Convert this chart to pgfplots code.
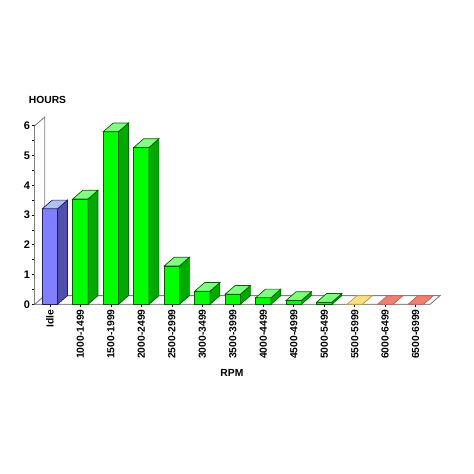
\documentclass[border=0pt]{standalone}
\usepackage{fontspec}
\setmainfont{Liberation Sans}
\usepackage{pgfplots}
\pgfplotsset{compat=1.18}

\definecolor{grn}{HTML}{00FF00}
\definecolor{grnside}{HTML}{00AA00}
\definecolor{grntop}{HTML}{80FF80}
\definecolor{grnedge}{HTML}{006000}
\definecolor{blu}{HTML}{8080FF}
\definecolor{bluside}{HTML}{5050AA}
\definecolor{blutop}{HTML}{B0C0F0}
\definecolor{bluedge}{HTML}{202060}
\definecolor{yeltop}{HTML}{FFE080}
\definecolor{redtop}{HTML}{F08070}
\definecolor{floorline}{HTML}{808080}

% one 3d bar: position, hours, front, side, top, edge
\newcommand{\tdbar}[6]{%
  \pgfmathsetmacro{\xa}{#1-0.25}%
  \pgfmathsetmacro{\xb}{#1+0.25}%
  \pgfmathsetmacro{\xc}{#1+0.25+0.325}%
  \pgfmathsetmacro{\xd}{#1-0.25+0.325}%
  \pgfmathsetmacro{\yb}{#2+0.29}%
  \addplot[fill=#3,draw=#6,line width=0.7pt] coordinates {(\xa,0) (\xb,0) (\xb,#2) (\xa,#2)} --cycle;
  \addplot[fill=#4,draw=#6,line width=0.7pt] coordinates {(\xb,0) (\xc,0.29) (\xc,\yb) (\xb,#2)} --cycle;
  \addplot[fill=#5,draw=#6,line width=0.7pt] coordinates {(\xa,#2) (\xb,#2) (\xc,\yb) (\xd,\yb)} --cycle;
}

\begin{document}
\begin{tikzpicture}[x=1pt,y=1pt]
\path[use as bounding box] (0,0) rectangle (474,474);
\begin{axis}[
    at={(34.7pt,169.7pt)},
    anchor=south west,
    scale only axis,
    width=395.3pt,
    height=178.6pt,
    xmin=-0.5, xmax=12.47,
    ymin=0, ymax=6,
    clip=false,
    no markers,
    axis lines=left,
    axis line style={-,floorline,line width=0.9pt},
    /pgf/number format/assume math mode=true,
    xtick={0,...,12},
    xticklabels={\textbf{Idle},\textbf{1000-1499},\textbf{1500-1999},\textbf{2000-2499},\textbf{2500-2999},\textbf{3000-3499},\textbf{3500-3999},\textbf{4000-4499},\textbf{4500-4999},\textbf{5000-5499},\textbf{5500-5999},\textbf{6000-6499},\textbf{6500-6999}},
    x tick label style={rotate=90,anchor=east,inner xsep=2pt,font=\fontsize{10.3}{12}\selectfont\bfseries},
    ytick={0,...,6},
    minor ytick={0.5,1.5,...,5.5},
    y tick label style={inner xsep=1.5pt,font=\fontsize{11}{12}\selectfont\bfseries},
    tick style={black,line width=0.6pt},
    tick align=outside,
    major tick length=3pt,
    minor tick length=3pt,
    xlabel={RPM},
    ylabel={HOURS},
    every axis x label/.style={at={(axis cs:5.97,-2.3)},anchor=center,font=\fontsize{10.3}{12}\selectfont\bfseries},
    every axis y label/.style={at={(axis cs:-0.08,6.85)},anchor=center,font=\fontsize{10.3}{12}\selectfont\bfseries},
]
% floor and back wall
\addplot[fill=white,draw=floorline,line width=0.9pt] coordinates {(-0.5,0) (12.47,0) (12.8,0.29) (-0.17,0.29)} --cycle;
\addplot[draw=floorline,line width=0.9pt] coordinates {(-0.5,6) (-0.17,6.29) (-0.17,0.29)};

\tdbar{0}{3.21}{blu}{bluside}{blutop}{bluedge}
\tdbar{1}{3.54}{grn}{grnside}{grntop}{grnedge}
\tdbar{2}{5.80}{grn}{grnside}{grntop}{grnedge}
\tdbar{3}{5.27}{grn}{grnside}{grntop}{grnedge}
\tdbar{4}{1.29}{grn}{grnside}{grntop}{grnedge}
\tdbar{5}{0.44}{grn}{grnside}{grntop}{grnedge}
\tdbar{6}{0.34}{grn}{grnside}{grntop}{grnedge}
\tdbar{7}{0.22}{grn}{grnside}{grntop}{grnedge}
\tdbar{8}{0.13}{grn}{grnside}{grntop}{grnedge}
\tdbar{9}{0.07}{grn}{grnside}{grntop}{grnedge}
\tdbar{10}{0}{yeltop}{yeltop}{yeltop}{yeltop!70!black}
\tdbar{11}{0}{redtop}{redtop}{redtop}{redtop!80!black}
\tdbar{12}{0}{redtop}{redtop}{redtop}{redtop!80!black}
\end{axis}
\end{tikzpicture}
\end{document}
